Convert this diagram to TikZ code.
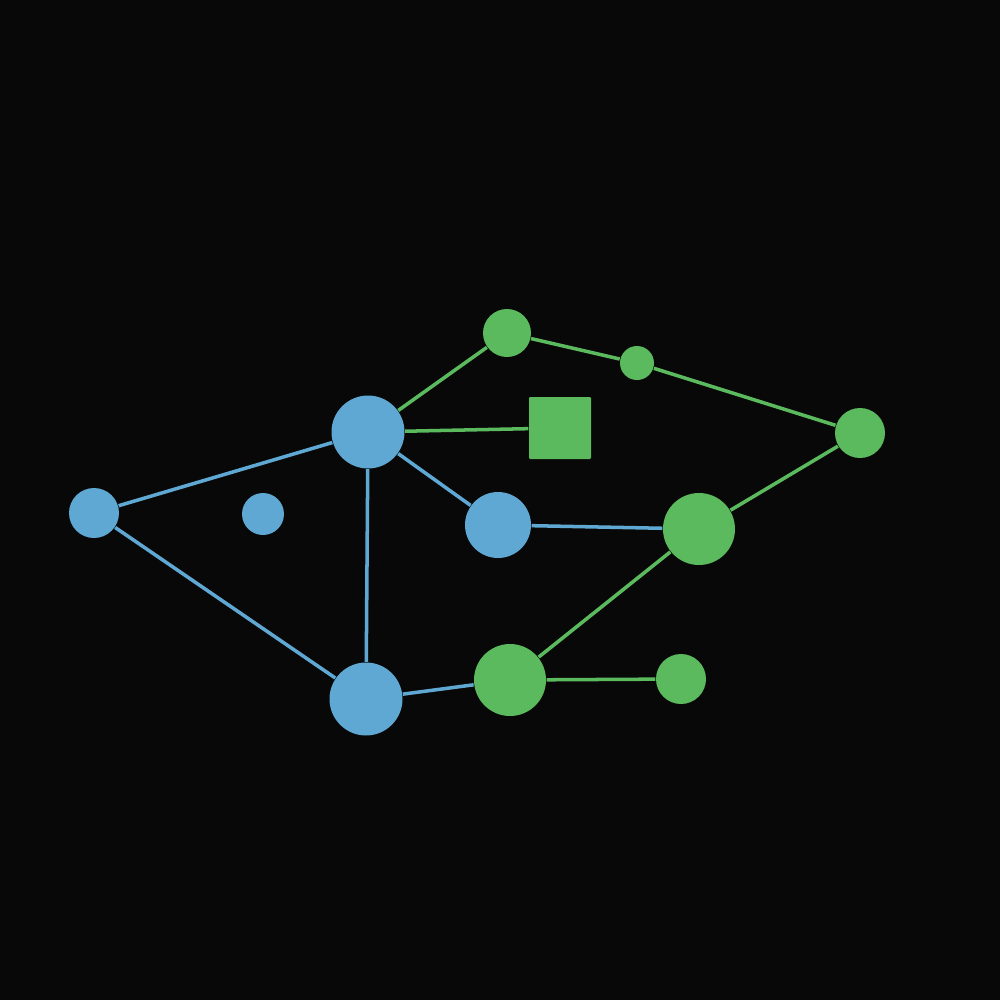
\documentclass[tikz,border=0pt]{standalone}
\usepackage{tikz}

\definecolor{bg}{HTML}{080808}
\definecolor{nodeblue}{HTML}{5FA8D3}
\definecolor{nodegreen}{HTML}{5CBA5E}

\begin{document}
\begin{tikzpicture}[x = 0.1mm, y = -0.1mm,
		bdot/.style = {circle, fill = nodeblue, inner sep = 0pt, minimum size = #1},
		gdot/.style = {circle, fill = nodegreen, inner sep = 0pt, minimum size = #1},
		bline/.style = {draw = nodeblue, line width = 1pt},
		gline/.style = {draw = nodegreen, line width = 1pt}]
		% Background
		\fill[bg] (0,0) rectangle (1000,1000);
		\useasboundingbox (0,0) rectangle (1000,1000);
		% Blue nodes
		\node[bdot = 5.0mm] (lft) at (94,513) {};       % left
		\node[bdot = 4.2mm] (lone) at (263,514) {};     % unlinked
		\node[bdot = 7.3mm] (top) at (368,432) {};      % upper hub
		\node[bdot = 6.6mm] (mid) at (498,525) {};      % middle
		\node[bdot = 7.3mm] (bot) at (366,699) {};      % lower hub
		% Green nodes
		\node[gdot = 4.8mm] (gtop) at (507,333) {};
		\node[gdot = 3.4mm] (gsml) at (637,363) {};
		\node[gdot = 5.0mm] (grgt) at (860,433) {};
		\node[fill = nodegreen, inner sep = 0pt, minimum size = 6.2mm, rounded corners = 0.3pt] (sq) at (560,428) {};
		\node[gdot = 7.2mm] (gmid) at (699,529) {};
		\node[gdot = 7.2mm] (gbot) at (510,680) {};
		\node[gdot = 5.0mm] (gend) at (681,679) {};
		% Blue links
		\draw[bline] (lft) -- (top);
		\draw[bline] (lft) -- (bot);
		\draw[bline] (top) -- (bot);
		\draw[bline] (top) -- (mid);
		\draw[bline] (mid) -- (gmid);
		\draw[bline] (bot) -- (gbot);
		% Green links
		\draw[gline] (top) -- (gtop);
		\draw[gline] (top) -- (sq);
		\draw[gline] (gtop) -- (gsml) -- (grgt);
		\draw[gline] (grgt) -- (gmid);
		\draw[gline] (gmid) -- (gbot);
		\draw[gline] (gbot) -- (gend);
	\end{tikzpicture}
\end{document}
